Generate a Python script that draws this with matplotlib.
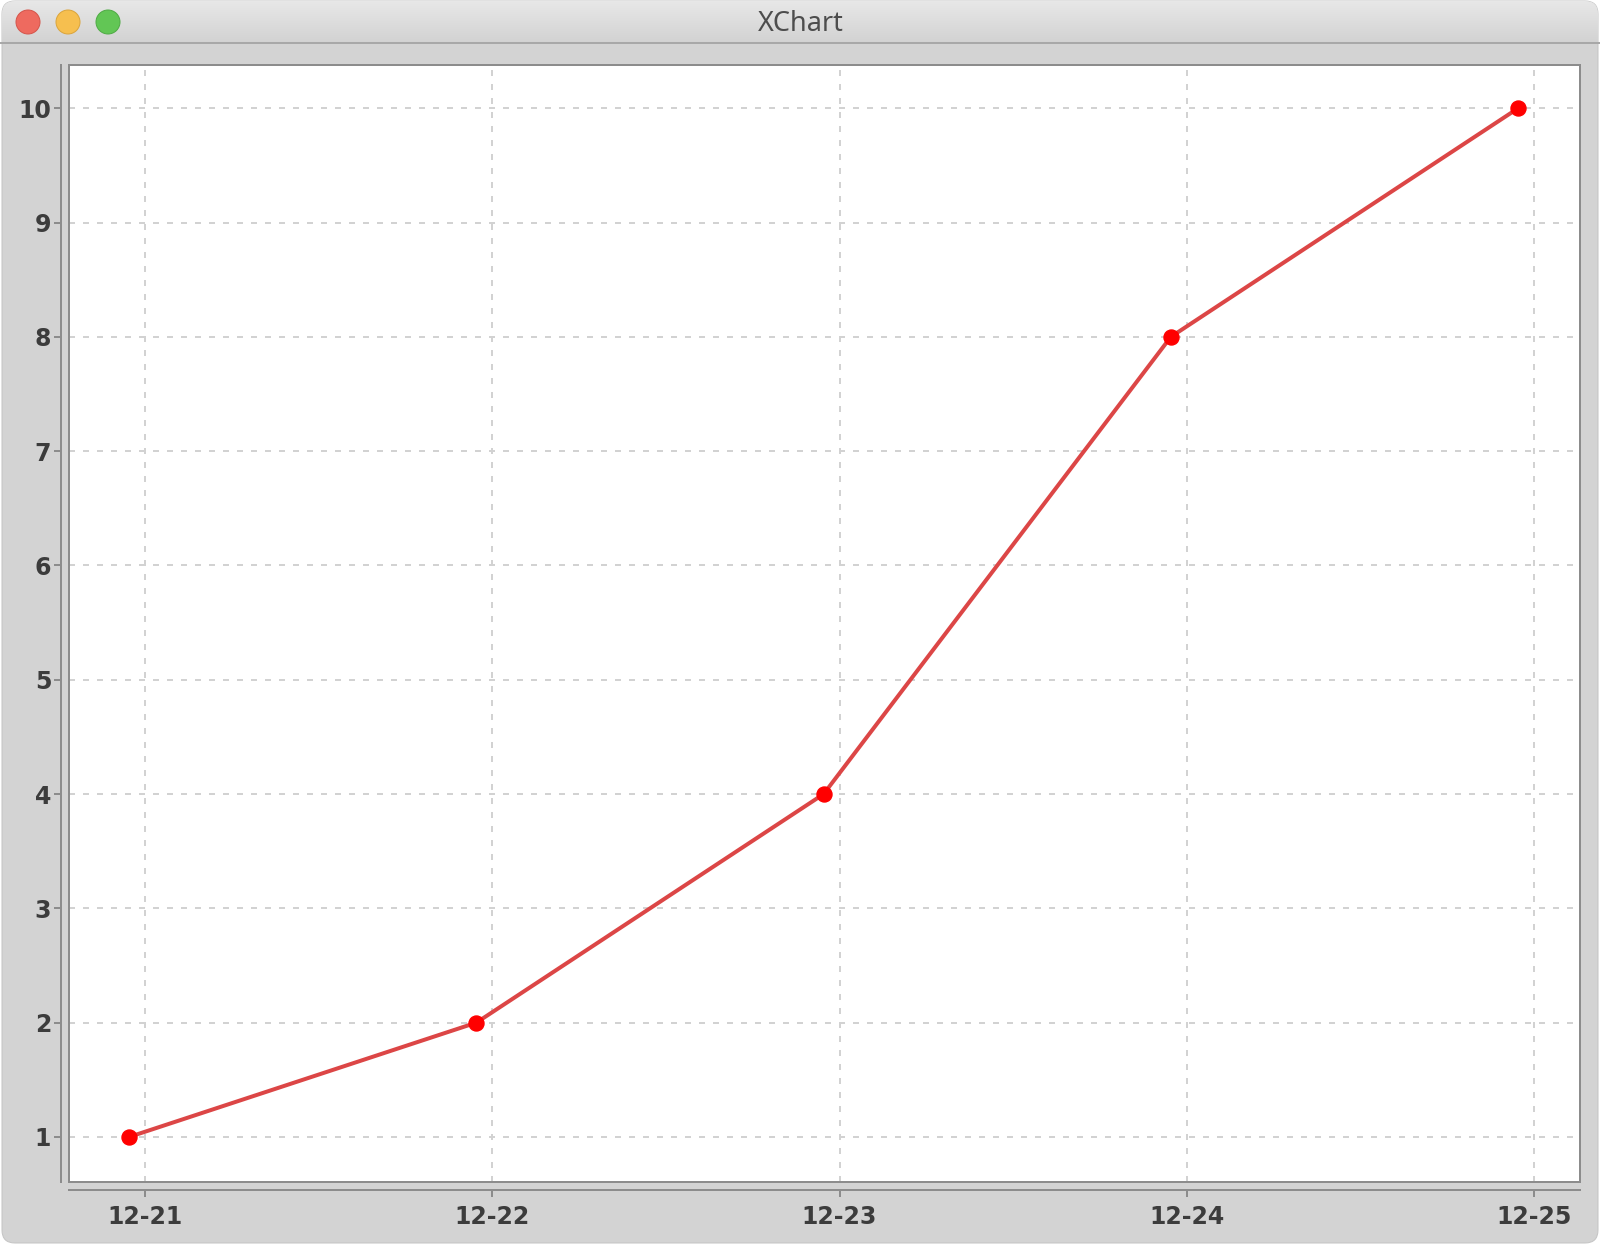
import matplotlib
matplotlib.use("Agg")
import matplotlib.dates as mdates
import matplotlib.pyplot as plt
import numpy as np
import pandas as pd
from matplotlib.patches import Circle, FancyBboxPatch, Rectangle

# series (timestamps sit a little before each midnight tick in the original)
dates = pd.to_datetime([
    "2019-12-20 22:54", "2019-12-21 22:54", "2019-12-22 22:54",
    "2019-12-23 22:54", "2019-12-24 22:54",
])
values = [1, 2, 4, 8, 10]

tick_days = pd.to_datetime(["2019-12-21", "2019-12-22", "2019-12-23", "2019-12-24", "2019-12-25"])
y_ticks = list(range(1, 11))
window_title = "XChart"

W, H = 1600, 1244
DPI = 100
PX = 72 / DPI  # one pixel in points

FRAME = "#8c8c8c"
GRID = "#d2d2d2"
BODY = "#d3d3d3"

plt.rcParams["font.family"] = ["DejaVu Sans"]

fig = plt.figure(figsize=(W / DPI, H / DPI), dpi=DPI, facecolor="white")

# --- window chrome -------------------------------------------------------
bg = fig.add_axes([0, 0, 1, 1])
bg.set_xlim(0, W)
bg.set_ylim(H, 0)
bg.axis("off")

win = FancyBboxPatch((2, 1), W - 4, H - 2, boxstyle="round,pad=0,rounding_size=13",
                     facecolor=BODY, edgecolor="#c4c4c4", linewidth=1 * PX)
bg.add_patch(win)

grad = np.linspace(0, 1, 64).reshape(-1, 1)
bar_cmap = matplotlib.colors.LinearSegmentedColormap.from_list("bar", ["#e8e8e8", "#d2d2d2"])
bar = bg.imshow(grad, extent=[0, W, 43, 0], cmap=bar_cmap, aspect="auto", zorder=1)
bar.set_clip_path(win)
bg.plot([0, W], [43, 43], color="#a8a8a8", lw=2 * PX, zorder=2)

for cx, fc, ec in [(28, "#ee6a5f", "#d5554b"), (68, "#f6bf4f", "#dba53c"), (108, "#62c655", "#4fab45")]:
    bg.add_patch(Circle((cx, 22), 12, facecolor=fc, edgecolor=ec, linewidth=1 * PX, zorder=3))

bg.text(W / 2 + 1, 24, window_title, ha="center", va="center", fontsize=19.5,
        color="#4d4d4d", family=["Noto Sans", "DejaVu Sans"], zorder=3)

# --- chart -----------------------------------------------------------------
left, right, top, bottom = 69, 1580, 64.5, 1182
ax = fig.add_axes([left / W, 1 - bottom / H, (right - left) / W, (bottom - top) / H])
ax.set_facecolor("white")

ax.plot(dates, values, color="#dc4646", lw=4 * PX, zorder=3, solid_capstyle="round")
ax.plot(dates, values, linestyle="none", marker="o", markersize=15 * PX,
        markerfacecolor="#ff0000", markeredgecolor="#ff0000", zorder=4)

t0 = mdates.date2num(tick_days[0])
ax.set_xlim(t0 - 0.219, t0 + 4.1325)
ax.set_ylim(0.606, 10.383)

ax.set_xticks(tick_days)
ax.xaxis.set_major_formatter(mdates.DateFormatter("%m-%d"))
ax.set_yticks(y_ticks)

ax.grid(True, color=GRID, lw=2 * PX, linestyle=(0, (3, 4)), zorder=1)
ax.set_axisbelow(True)

for side in ("top", "right"):
    ax.spines[side].set_visible(False)
for side in ("left", "bottom"):
    ax.spines[side].set_position(("outward", 8 * PX))
    ax.spines[side].set_color(FRAME)
    ax.spines[side].set_linewidth(2 * PX)

ax.add_patch(Rectangle((0, 0), 1, 1, transform=ax.transAxes, fill=False,
                       edgecolor=FRAME, lw=2 * PX, clip_on=False, zorder=5))

ax.tick_params(direction="out", length=7 * PX, width=2 * PX, color=FRAME,
               labelsize=17, labelcolor="#3c3c3c")
ax.tick_params(axis="y", pad=2)
ax.tick_params(axis="x", pad=6)
for lbl in ax.get_xticklabels() + ax.get_yticklabels():
    lbl.set_fontweight("bold")

fig.savefig("out.png", dpi=DPI, facecolor=fig.get_facecolor())
